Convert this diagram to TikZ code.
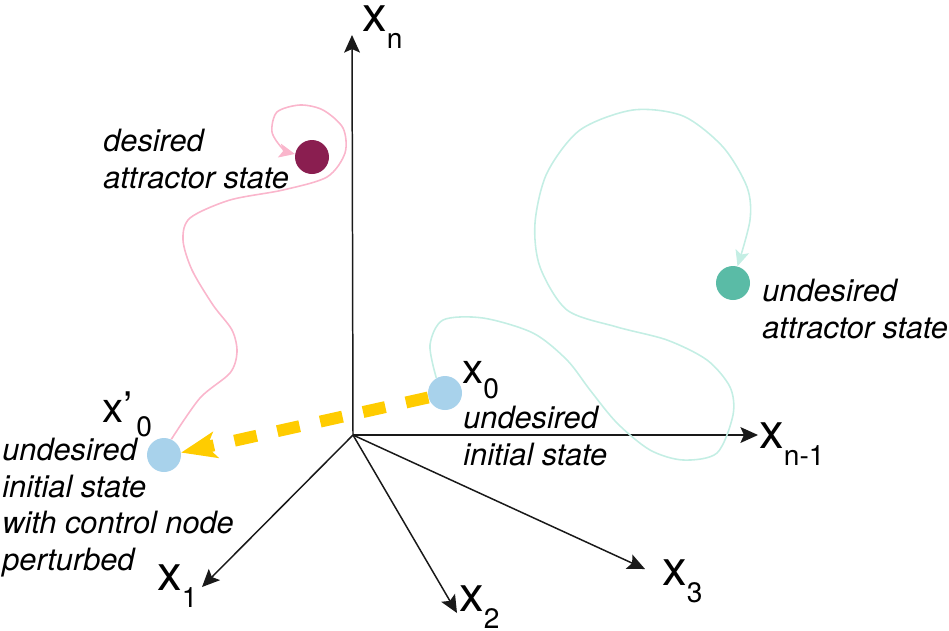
\documentclass[tikz,border=0pt]{standalone}
\usepackage{fontspec}
\setmainfont{TeX Gyre Heros}
\usetikzlibrary{arrows.meta}
\definecolor{goalpurple}{RGB}{138,30,80}
\definecolor{trapteal}{RGB}{90,187,166}
\definecolor{startblue}{RGB}{168,210,235}
\definecolor{kickyellow}{RGB}{255,204,0}
\definecolor{pathpink}{RGB}{250,182,204}
\definecolor{pathteal}{RGB}{196,238,228}
\newcommand{\axsub}[1]{x\raisebox{-10pt}{\fontsize{16}{16}\selectfont #1}}

\begin{document}
\begin{tikzpicture}[x=0.02cm, y=-0.02cm,
    dot/.style={circle, minimum size=0.68cm, inner sep=0pt},
    axis/.style={-{Stealth[length=10pt, width=9pt, inset=2pt]}, line width=0.85pt, black!90},
    axlabel/.style={anchor=base west, inner sep=0pt, font=\fontsize{28}{30}\selectfont},
    statelabel/.style={anchor=north west, inner sep=0pt, align=left,
        font=\fontsize{17.5}{20.8}\selectfont\itshape},
    trail/.style={line width=0.9pt, -{Stealth[length=9pt, width=8pt, inset=2pt]}}]
    \useasboundingbox (0,0) rectangle (949,630);

    % Axes
    \coordinate (O) at (353,435);
    \coordinate (endn) at (352,35);
    \coordinate (endnm) at (758,435);
    \coordinate (end1) at (202,587);
    \coordinate (end2) at (457,613);
    \coordinate (end3) at (645,569);
    \draw[axis] (O) -- (endn);
    \draw[axis] (O) -- (endnm);
    \draw[axis] (O) -- (end1);
    \draw[axis] (O) -- (end2);
    \draw[axis] (O) -- (end3);

    % Axis labels
    \node[axlabel] (labn)  at (362,31)  {\axsub{n}};
    \node[axlabel] (labnm) at (759,448) {\axsub{n-1}};
    \node[axlabel] (lab1)  at (157,590) {\axsub{1}};
    \node[axlabel] (lab2)  at (459,611) {\axsub{2}};
    \node[axlabel] (lab3)  at (662,585) {\axsub{3}};

    % States
    \node[dot, fill=goalpurple] (dattr) at (312,157) {};
    \node[dot, fill=trapteal]   (uattr) at (733,283) {};
    \node[dot, fill=startblue]  (xzero) at (445,393) {};
    \node[dot, fill=startblue]  (xpert) at (164,455) {};

    % Trajectories
    \draw[trail, pathpink] plot[smooth] coordinates {(xpert.65) (200,398) (230,373)
        (237,352) (232,330) (213,305) (192,270) (183,240) (190,218) (230,200)
        (283,190) (327,177) (345,153) (343,128) (323,110) (300,105) (277,112)
        (272,132) (283,149) (dattr.170)};
    \draw[trail, pathteal] plot[smooth] coordinates {(xzero.120) (430,345) (443,320)
        (483,318) (533,333) (567,360) (590,390) (617,423) (650,450) (683,460)
        (717,453) (733,415) (730,387) (707,360) (667,340) (617,327) (567,310)
        (540,267) (535,223) (547,173) (580,130) (633,110) (683,116) (723,147)
        (747,187) (750,220) (uattr.75)};

    % Control perturbation
    \draw[kickyellow, line width=6.8pt, dash pattern=on 13pt off 12pt,
        -{Stealth[length=20pt, width=15pt, inset=5pt]}] (xzero.195) -- (xpert.8);

    % State names
    \node[axlabel, font=\fontsize{24}{26}\selectfont] (labx0) at (462,383)
        {x\raisebox{-9pt}{\fontsize{16}{16}\selectfont 0}};
    \node[axlabel, font=\fontsize{24}{26}\selectfont] (labxp) at (102,422)
        {x’\hspace{2pt}\raisebox{-8pt}{\fontsize{16}{16}\selectfont 0}};

    % Descriptions
    \node[statelabel] (dtext) at (103,129) {desired\\attractor state};
    \node[statelabel] (utext) at (762,279) {undesired\\attractor state};
    \node[statelabel] (itext) at (463,406) {undesired\\initial state};
    \node[statelabel] (ptext) at (2,438) {undesired\\initial state\\with control node\\perturbed};
\end{tikzpicture}
\end{document}
